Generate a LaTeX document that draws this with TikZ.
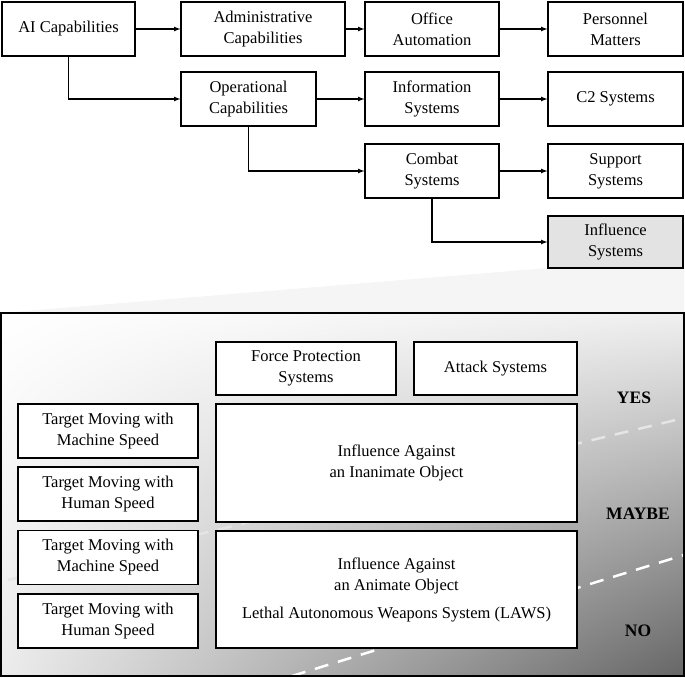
\documentclass[tikz,border=0pt]{standalone}
\usepackage{fontspec}
\setmainfont{Liberation Serif}
\usetikzlibrary{shadings}
\begin{document}
\begin{tikzpicture}[x=1pt,y=-1pt,
  bx/.style={draw,line width=1.2pt,fill=white,align=center,inner sep=0pt,font=\fontsize{16.5}{21}\selectfont},
  arr/.style={-latex,line width=1.2pt},
  lab/.style={font=\fontsize{17.5}{20}\selectfont\bfseries}]
\useasboundingbox (0,0) rectangle (685,677);
% funnel
\fill[gray!8] (1,313) -- (548,268) -- (684,268) -- (684,313) -- cycle;
% frame with shading
\shade[upper left=white,upper right=gray!12,lower left=gray!15,lower right=gray!80!black] (1,313) rectangle (684,676);
\draw[gray!20,line width=2.5pt,dash pattern=on 14pt off 10pt] (8,580) -- (684,418);
\draw[white,line width=2.5pt,dash pattern=on 14pt off 10pt] (292,676) -- (684,555);
\draw[line width=1.4pt] (1,313) rectangle (684,676);
% top boxes
\node[bx,minimum width=133pt,minimum height=54pt] (ai) at (68.5,29) {AI Capabilities};
\node[bx,minimum width=164pt,minimum height=54pt] (adm) at (263,29) {Administrative\\Capabilities};
\node[bx,minimum width=134pt,minimum height=54pt] (off) at (432,29) {Office\\Automation};
\node[bx,minimum width=135pt,minimum height=54pt] (per) at (615.5,29) {Personnel\\Matters};
\node[bx,minimum width=135pt,minimum height=54pt] (op) at (248.5,99) {Operational\\Capabilities};
\node[bx,minimum width=134pt,minimum height=54pt] (inf) at (432,99) {Information\\Systems};
\node[bx,minimum width=135pt,minimum height=54pt] (c2) at (615.5,99) {C2 Systems};
\node[bx,minimum width=134pt,minimum height=54pt] (com) at (432,171) {Combat\\Systems};
\node[bx,minimum width=135pt,minimum height=54pt] (sup) at (615.5,171) {Support\\Systems};
\node[bx,minimum width=135pt,minimum height=52pt,fill=gray!22] (infl) at (615.5,242) {Influence\\Systems};
\draw[arr] (ai) -- (adm);
\draw[arr] (adm) -- (off);
\draw[arr] (off) -- (per);
\draw[arr] (ai.south) |- (op.west);
\draw[arr] (op) -- (inf);
\draw[arr] (inf) -- (c2);
\draw[arr] (op.south) |- (com.west);
\draw[arr] (com) -- (sup);
\draw[arr] (com.south) |- (infl.west);
% lower boxes
\node[bx,minimum width=180pt,minimum height=53pt] (fp) at (306,368.5) {Force Protection\\Systems};
\node[bx,minimum width=163pt,minimum height=53pt] (att) at (495.5,368.5) {Attack Systems};
\node[bx,minimum width=361pt,minimum height=118pt] (inan) at (396.5,463) {Influence Against\\an Inanimate Object};
\node[bx,minimum width=361pt,minimum height=117pt] (anim) at (396.5,589.5) {Influence Against\\an Animate Object\\[7pt]Lethal Autonomous Weapons System (LAWS)};
\node[bx,minimum width=180pt,minimum height=54pt] (t1) at (108,431) {Target Moving with\\Machine Speed};
\node[bx,minimum width=180pt,minimum height=54pt] (t2) at (108,494) {Target Moving with\\Human Speed};
\node[bx,minimum width=180pt,minimum height=54pt] (t3) at (108,557.5) {Target Moving with\\Machine Speed};
\node[bx,minimum width=180pt,minimum height=54pt] (t4) at (108,621) {Target Moving with\\Human Speed};
\node[lab] (yes) at (634,398) {YES};
\node[lab] (maybe) at (638,514) {MAYBE};
\node[lab] (no) at (638,631) {NO};
\end{tikzpicture}
\end{document}
